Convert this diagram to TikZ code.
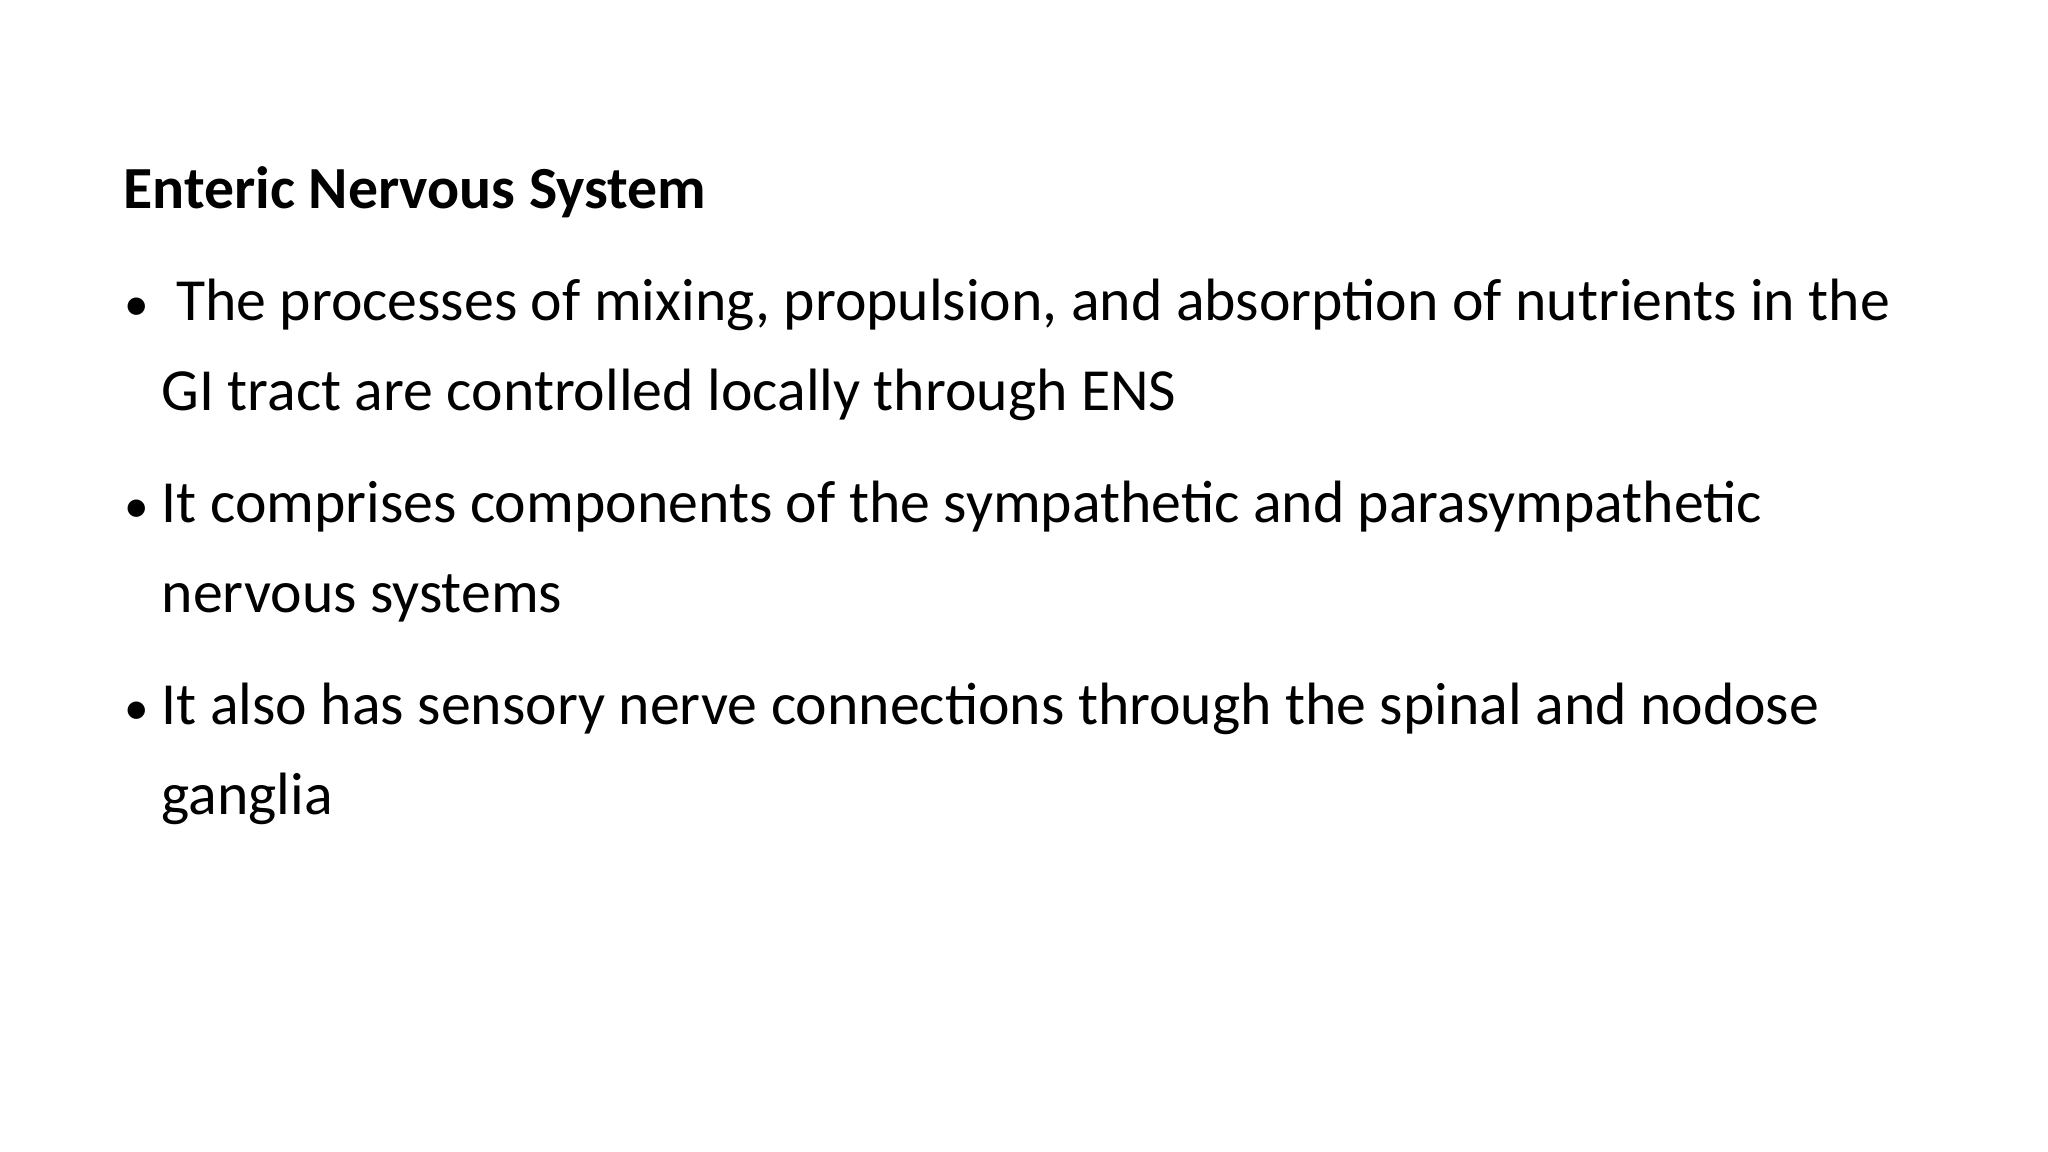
\documentclass[tikz,border=0pt]{standalone}
\usepackage{fontspec}
\setmainfont{Carlito}
\begin{document}
\begin{tikzpicture}[x=1cm,y=1cm,
  ln/.style={anchor=base west,inner sep=0pt,font=\fontsize{17pt}{20pt}\selectfont},
  bl/.style={anchor=base west,inner sep=0pt,font=\fontsize{14pt}{17pt}\selectfont}]
\useasboundingbox (0,0) rectangle (20.48,-11.52);
\node[anchor=base west,inner sep=0pt,font=\fontsize{17pt}{20pt}\selectfont\bfseries] (title) at (1.23,-2.085) {Enteric Nervous System};
\node[bl] (b1) at (1.24,-3.208) {\textbullet};
\node[ln] (l1) at (1.61,-3.208) {\hspace{0.24em}The processes of mixing, propulsion, and absorption of nutrients in the};
\node[ln] (l2) at (1.61,-4.105) {GI tract are controlled locally through ENS};
\node[bl] (b2) at (1.24,-5.227) {\textbullet};
\node[ln] (l3) at (1.61,-5.227) {It comprises components of the sympathetic and parasympathetic};
\node[ln] (l4) at (1.61,-6.125) {nervous systems};
\node[bl] (b3) at (1.24,-7.247) {\textbullet};
\node[ln] (l5) at (1.61,-7.247) {It also has sensory nerve connections through the spinal and nodose};
\node[ln] (l6) at (1.61,-8.144) {ganglia};
\end{tikzpicture}
\end{document}
